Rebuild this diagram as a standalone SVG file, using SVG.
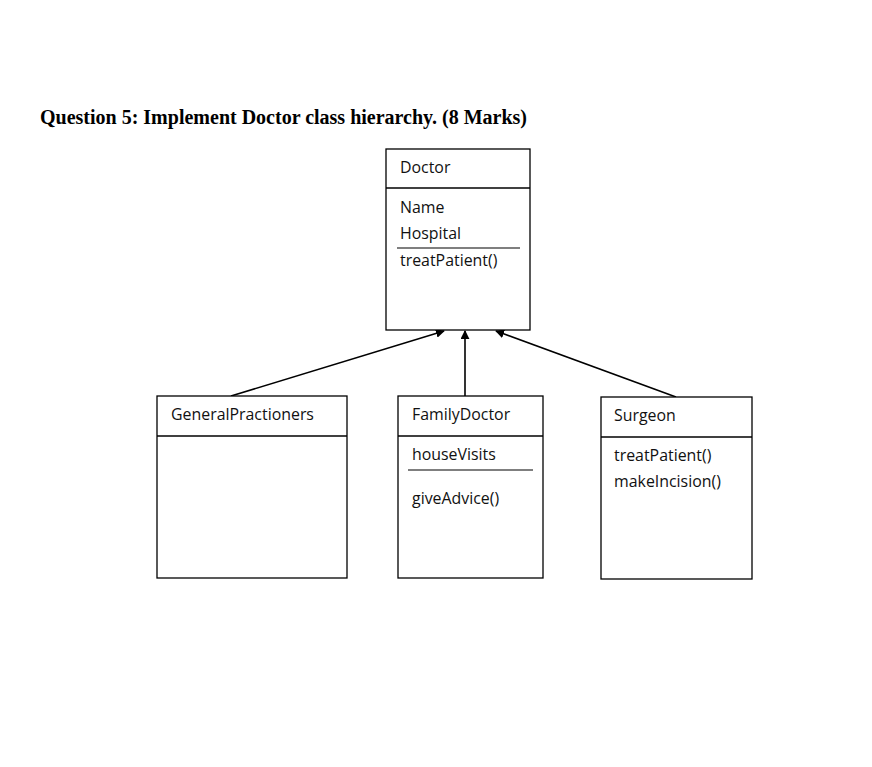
<svg xmlns="http://www.w3.org/2000/svg" width="872" height="767" viewBox="0 0 872 767">
<defs>
<style>
.box{fill:#fff;stroke:#000;stroke-width:1.3}
.div{stroke:#000;stroke-width:1.3}
.sep{stroke:#555;stroke-width:1.3}
.t{font-family:"Open Sans","Liberation Sans",sans-serif;font-size:15.9px;fill:#111}
.title{font-family:"Liberation Serif",serif;font-weight:bold;font-size:20px;fill:#000}
.conn{stroke:#000;stroke-width:1.6;fill:none;marker-end:url(#arr)}
</style>
<marker id="arr" viewBox="0 0 10 10" refX="9" refY="5" markerWidth="9" markerHeight="9" orient="auto" markerUnits="userSpaceOnUse">
<path d="M0,0 L10,5 L0,10 z" fill="#000"/>
</marker>
</defs>
<rect width="872" height="767" fill="#fff"/>
<text class="title" x="40" y="124">Question 5: Implement Doctor class hierarchy. (8 Marks)</text>
<g id="connectors">
<line class="conn" x1="231" y1="396" x2="444" y2="331"/>
<line class="conn" x1="465" y1="396" x2="465" y2="331"/>
<line class="conn" x1="676" y1="397" x2="496" y2="331"/>
</g>
<g id="doctor">
<rect class="box" x="386" y="149" width="144" height="181"/>
<line class="div" x1="386" y1="188" x2="530" y2="188"/>
<text class="t" x="400" y="173">Doctor</text>
<text class="t" x="400" y="213">Name</text>
<text class="t" x="400" y="239">Hospital</text>
<line class="sep" x1="397" y1="248" x2="520" y2="248"/>
<text class="t" x="400" y="266">treatPatient()</text>
</g>
<g id="generalPractioners">
<rect class="box" x="157" y="396" width="190" height="182"/>
<line class="div" x1="157" y1="436" x2="347" y2="436"/>
<text class="t" x="171" y="420">GeneralPractioners</text>
</g>
<g id="familyDoctor">
<rect class="box" x="398" y="396" width="145" height="182"/>
<line class="div" x1="398" y1="436" x2="543" y2="436"/>
<text class="t" x="412" y="420">FamilyDoctor</text>
<text class="t" x="412" y="460">houseVisits</text>
<line class="sep" x1="408" y1="470" x2="533" y2="470"/>
<text class="t" x="412" y="504">giveAdvice()</text>
</g>
<g id="surgeon">
<rect class="box" x="601" y="397" width="151" height="182"/>
<line class="div" x1="601" y1="437" x2="752" y2="437"/>
<text class="t" x="614" y="421">Surgeon</text>
<text class="t" x="614" y="461">treatPatient()</text>
<text class="t" x="614" y="487">makeIncision()</text>
</g>
</svg>
